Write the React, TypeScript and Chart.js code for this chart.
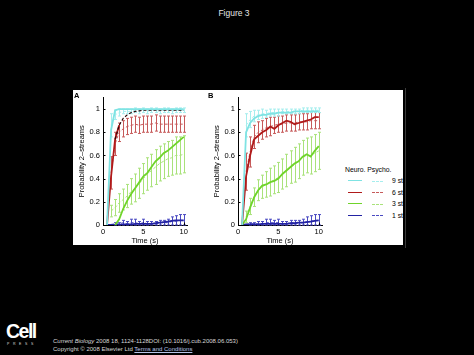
import React, { useEffect, useRef } from "react";
import { Chart, registerables } from "chart.js";
Chart.register(...registerables);

// ---------- data ----------
const TIME = [0.5, 1, 1.5, 2, 2.5, 3, 3.5, 4, 4.5, 5, 5.5, 6, 6.5, 7, 7.5, 8, 8.5, 9, 9.5, 10];
const X_TICKS = [0, 5, 10];
const Y_TICKS = [0, 0.2, 0.4, 0.6, 0.8, 1];
const LEGEND_LABELS = ["9 st", "6 st", "3 st", "1 st"];

// Panel A
const A_NEURO_9 = [0, 0.82, 0.99, 1, 1, 1, 1, 1, 1, 1, 1, 1, 1, 1, 1, 1, 1, 1, 1, 1];
const A_PSYCHO_9 = [null, 0.86, 0.95, 0.97, 0.98, 0.98, 0.98, 0.99, 0.98, 0.99, 0.98, 0.99, 0.99, 0.98, 0.99, 0.99, 0.98, 0.99, 0.99, 0.99];
const A_ERR_9 = [0, 0.1, 0.04, 0.03, 0.02, 0.02, 0.02, 0.02, 0.02, 0.02, 0.02, 0.02, 0.02, 0.02, 0.02, 0.02, 0.02, 0.02, 0.02, 0.02];
const A_NEURO_6 = [0, 0.42, 0.74, 0.86, null, null, null, null, null, null, null, null, null, null, null, null, null, null, null, null];
const A_FIT_6 = [null, null, 0.74, 0.86, 0.92, 0.95, 0.97, 0.98, 0.985, 0.99, 0.99, 0.99, 0.99, 0.99, 0.99, 0.99, 0.99, 0.99, 0.99, 0.99];
const A_PSYCHO_6 = [null, 0.45, 0.7, 0.8, 0.83, 0.85, 0.86, 0.87, 0.86, 0.87, 0.87, 0.87, 0.88, 0.87, 0.87, 0.87, 0.87, 0.87, 0.87, 0.87];
const A_ERR_6 = [0, 0.14, 0.1, 0.08, 0.07, 0.07, 0.07, 0.07, 0.07, 0.07, 0.07, 0.07, 0.07, 0.07, 0.07, 0.07, 0.07, 0.07, 0.07, 0.07];
const A_NEURO_3 = [null, null, 0, 0.05, 0.14, 0.21, 0.27, 0.32, 0.37, 0.42, 0.45, 0.5, 0.55, 0.58, 0.62, 0.64, 0.67, 0.7, 0.73, 0.76];
const A_PSYCHO_3 = [null, 0.12, 0.15, 0.19, 0.22, 0.25, 0.29, 0.32, 0.36, 0.4, 0.44, 0.47, 0.5, 0.53, 0.55, 0.57, 0.58, 0.6, 0.6, 0.61];
const A_ERR_3 = [0, 0.05, 0.07, 0.08, 0.09, 0.1, 0.11, 0.12, 0.13, 0.13, 0.14, 0.14, 0.15, 0.15, 0.15, 0.15, 0.15, 0.16, 0.16, 0.16];
const A_NEURO_1 = [0, 0, 0, 0, 0.005, 0.005, 0.005, 0.01, 0.01, 0.01, 0.01, 0.01, 0.015, 0.02, 0.025, 0.03, 0.035, 0.04, 0.04, 0.04];
const A_PSYCHO_1 = [null, 0.005, 0.01, 0.01, 0.02, 0.01, 0.02, 0.02, 0.01, 0.02, 0.01, 0.01, 0.01, 0.02, 0.02, 0.02, 0.03, 0.03, 0.04, 0.04];
const A_ERR_1 = [0, 0, 0.01, 0.01, 0.02, 0.02, 0.03, 0.03, 0.02, 0.03, 0.02, 0.02, 0.02, 0.02, 0.02, 0.03, 0.04, 0.05, 0.05, 0.05];

// Panel B
const B_NEURO_9 = [0, 0.8, 0.88, 0.92, 0.94, 0.95, 0.95, 0.96, 0.96, 0.97, 0.97, 0.97, 0.97, 0.98, 0.98, 0.98, 0.98, 0.98, 0.98, 0.98];
const B_PSYCHO_9 = [null, 0.86, 0.91, 0.94, 0.95, 0.96, 0.96, 0.97, 0.97, 0.97, 0.98, 0.98, 0.98, 0.98, 0.98, 0.99, 0.99, 0.99, 0.99, 0.99];
const B_ERR_9 = [0, 0.1, 0.07, 0.05, 0.04, 0.04, 0.03, 0.03, 0.03, 0.03, 0.02, 0.02, 0.02, 0.02, 0.02, 0.02, 0.02, 0.02, 0.02, 0.02];
const B_NEURO_6 = [0, 0.42, 0.6, 0.74, 0.77, 0.8, 0.82, 0.85, 0.83, 0.86, 0.88, 0.9, 0.89, 0.87, 0.88, 0.89, 0.9, 0.91, 0.93, 0.93];
const B_PSYCHO_6 = [null, 0.46, 0.63, 0.76, 0.8, 0.82, 0.84, 0.85, 0.86, 0.87, 0.87, 0.88, 0.88, 0.88, 0.89, 0.89, 0.89, 0.9, 0.9, 0.9];
const B_ERR_6 = [0, 0.16, 0.13, 0.1, 0.09, 0.08, 0.08, 0.08, 0.07, 0.07, 0.07, 0.07, 0.07, 0.07, 0.07, 0.07, 0.07, 0.07, 0.07, 0.07];
const B_NEURO_3 = [0, 0.05, 0.15, 0.24, 0.3, 0.34, 0.35, 0.37, 0.38, 0.4, 0.44, 0.47, 0.5, 0.53, 0.55, 0.59, 0.61, 0.59, 0.64, 0.68];
const B_PSYCHO_3 = [null, 0.07, 0.16, 0.24, 0.3, 0.33, 0.35, 0.37, 0.39, 0.41, 0.44, 0.47, 0.5, 0.52, 0.55, 0.58, 0.6, 0.6, 0.62, 0.64];
const B_ERR_3 = [0, 0.05, 0.07, 0.08, 0.09, 0.1, 0.11, 0.12, 0.12, 0.13, 0.13, 0.14, 0.14, 0.15, 0.15, 0.15, 0.15, 0.16, 0.16, 0.16];
const B_NEURO_1 = [0, 0.005, 0.005, 0.005, 0.005, 0.01, 0.01, 0.01, 0.01, 0.01, 0.01, 0.01, 0.015, 0.015, 0.02, 0.02, 0.025, 0.03, 0.035, 0.04];
const B_PSYCHO_1 = [null, 0.005, 0.01, 0.01, 0.01, 0.01, 0.02, 0.02, 0.02, 0.02, 0.01, 0.01, 0.02, 0.02, 0.02, 0.02, 0.03, 0.03, 0.04, 0.04];
const B_ERR_1 = [0, 0, 0.01, 0.01, 0.02, 0.02, 0.03, 0.03, 0.02, 0.03, 0.02, 0.02, 0.02, 0.02, 0.02, 0.03, 0.04, 0.05, 0.05, 0.05];

// ---------- styles ----------
const FONT = "'Liberation Sans', Arial, Helvetica, sans-serif";
const NEURO_COLORS = ["#7fe3e3", "#b01a1a", "#6fd42a", "#2323a3"];
const PSYCHO_COLORS = ["#a6eeee", "#c65a5a", "#a9e27a", "#4a4ac2"];

const errorBarPlugin = {
  id: "errorBars",
  beforeDatasetsDraw(chart: any, _args: any, opts: any) {
    const { ctx, scales } = chart;
    const x = scales.x, y = scales.y;
    ctx.save();
    ctx.lineWidth = 1;
    for (const s of opts.series || []) {
      ctx.strokeStyle = s.color;
      ctx.beginPath();
      s.values.forEach((v: number | null, i: number) => {
        const e = s.err[i];
        if (v == null || !e) return;
        const px = Math.round(x.getPixelForValue(TIME[i])) + 0.5;
        const top = y.getPixelForValue(v + e);
        const bot = y.getPixelForValue(Math.max(0, v - e));
        ctx.moveTo(px, top); ctx.lineTo(px, bot);
        ctx.moveTo(px - 1.5, top); ctx.lineTo(px + 1.5, top);
        ctx.moveTo(px - 1.5, bot); ctx.lineTo(px + 1.5, bot);
      });
      ctx.stroke();
    }
    // inward tick marks (MATLAB style)
    ctx.strokeStyle = "#000";
    ctx.beginPath();
    const ca = chart.chartArea;
    x.ticks.forEach((t: any) => {
      const px = Math.round(x.getPixelForValue(t.value)) + 0.5;
      ctx.moveTo(px, ca.bottom); ctx.lineTo(px, ca.bottom - 2.5);
    });
    y.ticks.forEach((t: any) => {
      const py = Math.round(y.getPixelForValue(t.value)) + 0.5;
      ctx.moveTo(ca.left, py); ctx.lineTo(ca.left + 2.5, py);
    });
    ctx.stroke();
    ctx.restore();
  },
};

function pts(vals: (number | null)[]) {
  return TIME.map((t, i) => ({ x: t, y: vals[i] }));
}

function neuro(vals: (number | null)[], color: string) {
  return { data: pts(vals), borderColor: color, borderWidth: 1.8, pointRadius: 0, tension: 0, spanGaps: false, fill: false };
}
function psycho(vals: (number | null)[], color: string) {
  return { data: pts(vals), borderColor: color, borderWidth: 1, borderDash: [3, 2], pointRadius: 0, tension: 0, spanGaps: false, fill: false };
}

function makeConfig(p: any) {
  return {
    type: "line",
    data: { datasets: p.datasets },
    plugins: [errorBarPlugin],
    options: {
      animation: false,
      responsive: false,
      maintainAspectRatio: false,
      events: [],
      layout: { padding: { top: 6, right: p.padRight, bottom: 0, left: 0 } },
      plugins: {
        legend: { display: false },
        tooltip: { enabled: false },
        errorBars: { series: p.errors },
      },
      scales: {
        x: {
          type: "linear",
          min: 0,
          max: 10.4,
          afterBuildTicks: (s: any) => { s.ticks = X_TICKS.map((v) => ({ value: v })); },
          afterFit: (s: any) => { s.height = 20; },
          grid: { display: false, drawTicks: false },
          border: { display: true, color: "#000", width: 1 },
          ticks: { color: "#000", font: { family: FONT, size: 7.5 }, padding: 2, maxRotation: 0, autoSkip: false, callback: (v: any) => String(v) },
          title: { display: true, text: "Time (s)", color: "#000", font: { family: FONT, size: 7.5 }, padding: { top: 0, bottom: 0 } },
        },
        y: {
          type: "linear",
          min: 0,
          max: 1.1,
          afterBuildTicks: (s: any) => { s.ticks = Y_TICKS.map((v) => ({ value: v })); },
          afterFit: (s: any) => { s.width = p.yWidth; },
          grid: { display: false, drawTicks: false },
          border: { display: true, color: "#000", width: 1 },
          ticks: {
            color: "#000", font: { family: FONT, size: 7.5 }, padding: 3, autoSkip: false,
            callback: (v: any) => (v === 0 ? "0" : v === 1 ? "1" : Number(v).toFixed(1)),
          },
          title: { display: true, text: "Probability 2–streams", color: "#000", font: { family: FONT, size: 7.5 }, padding: { top: p.titlePad, bottom: 0 } },
        },
      },
    },
  };
}

const PANEL_A = {
  yWidth: 30,
  padRight: 19,
  titlePad: 4,
  datasets: [
    neuro(A_NEURO_9, NEURO_COLORS[0]),
    { ...psycho(A_FIT_6, "#2a0a0a"), borderWidth: 1.2 },
    neuro(A_NEURO_6, NEURO_COLORS[1]),
    neuro(A_NEURO_3, NEURO_COLORS[2]),
    neuro(A_NEURO_1, NEURO_COLORS[3]),
    psycho(A_PSYCHO_9, PSYCHO_COLORS[0]),
    psycho(A_PSYCHO_6, PSYCHO_COLORS[1]),
    psycho(A_PSYCHO_3, PSYCHO_COLORS[2]),
    psycho(A_PSYCHO_1, PSYCHO_COLORS[3]),
  ],
  errors: [
    { values: A_PSYCHO_3, err: A_ERR_3, color: PSYCHO_COLORS[2] },
    { values: A_PSYCHO_1, err: A_ERR_1, color: PSYCHO_COLORS[3] },
    { values: A_PSYCHO_6, err: A_ERR_6, color: PSYCHO_COLORS[1] },
    { values: A_PSYCHO_9, err: A_ERR_9, color: PSYCHO_COLORS[0] },
  ],
};

const PANEL_B = {
  yWidth: 32,
  padRight: 8,
  titlePad: 6,
  datasets: [
    neuro(B_NEURO_9, NEURO_COLORS[0]),
    neuro(B_NEURO_6, NEURO_COLORS[1]),
    neuro(B_NEURO_3, NEURO_COLORS[2]),
    neuro(B_NEURO_1, NEURO_COLORS[3]),
    psycho(B_PSYCHO_9, PSYCHO_COLORS[0]),
    psycho(B_PSYCHO_6, PSYCHO_COLORS[1]),
    psycho(B_PSYCHO_3, PSYCHO_COLORS[2]),
    psycho(B_PSYCHO_1, PSYCHO_COLORS[3]),
  ],
  errors: [
    { values: B_PSYCHO_3, err: B_ERR_3, color: PSYCHO_COLORS[2] },
    { values: B_PSYCHO_1, err: B_ERR_1, color: PSYCHO_COLORS[3] },
    { values: B_PSYCHO_6, err: B_ERR_6, color: PSYCHO_COLORS[1] },
    { values: B_PSYCHO_9, err: B_ERR_9, color: PSYCHO_COLORS[0] },
  ],
};

function Panel({ cfg, left, width }: { cfg: any; left: number; width: number }) {
  const ref = useRef<HTMLCanvasElement | null>(null);
  useEffect(() => {
    if (!ref.current) return;
    const chart = new Chart(ref.current, makeConfig(cfg) as any);
    return () => chart.destroy();
  }, [cfg]);
  return (
    <canvas
      ref={ref}
      width={width}
      height={155}
      style={{ position: "absolute", left, top: 0, width, height: 155 }}
    />
  );
}

export default function App() {
  const white = { left: 73, top: 90, width: 330, height: 155 };
  return (
    <div style={{ position: "fixed", left: 0, top: 0, width: 474, height: 355, background: "#000", overflow: "hidden", fontFamily: FONT }}>
      <div style={{ position: "absolute", left: 0, width: 474, top: 7, textAlign: "center", color: "#e6e6e6", fontSize: 8.5, lineHeight: "12px" }}>
        <span style={{ position: "relative", left: -3 }}>Figure 3</span>
      </div>
      <div style={{ position: "absolute", left: 405, top: 88, width: 1, height: 160, background: "#3a3a3a" }} />
      <div style={{ position: "absolute", ...white, background: "#fff", overflow: "hidden" }}>
        <Panel cfg={PANEL_A} left={0} width={133} />
        <Panel cfg={PANEL_B} left={133} width={124} />
        <div style={{ position: "absolute", left: 1, top: 1, fontSize: 7.5, fontWeight: "bold", color: "#000", lineHeight: "9px" }}>A</div>
        <div style={{ position: "absolute", left: 135, top: 1, fontSize: 7.5, fontWeight: "bold", color: "#000", lineHeight: "9px" }}>B</div>
        <div style={{ position: "absolute", left: 272, top: 74.5, fontSize: 6.8, color: "#000", whiteSpace: "nowrap", lineHeight: "9px" }}>Neuro. Psycho.</div>
        {LEGEND_LABELS.map((lab, i) => (
          <div key={lab} style={{ position: "absolute", left: 0, top: 91 + i * 11.6, width: 330, height: 0 }}>
            <div style={{ position: "absolute", left: 275, top: -1, width: 14, height: 0, borderTop: `1.5px solid ${NEURO_COLORS[i]}` }} />
            <div style={{ position: "absolute", left: 299, top: -0.5, width: 11, height: 0, borderTop: `1px dashed ${PSYCHO_COLORS[i]}` }} />
            <div style={{ position: "absolute", left: 319, top: -5, fontSize: 6.8, color: "#000", whiteSpace: "nowrap", lineHeight: "9px" }}>{lab}</div>
          </div>
        ))}
      </div>
      {/* Cell Press logo */}
      <div style={{ position: "absolute", left: 6, top: 320, color: "#fff", fontSize: 19.5, fontWeight: "bold", letterSpacing: -1.5, lineHeight: "22px" }}>Cell</div>
      <div style={{ position: "absolute", left: 7, top: 342, color: "#ddd", fontSize: 3.5, letterSpacing: 3.6, lineHeight: "5px" }}>PRESS</div>
      <div style={{ position: "absolute", left: 53, top: 338, color: "#d8d8d8", fontSize: 6, lineHeight: "7px", whiteSpace: "nowrap" }}>
        <i>Current Biology</i> 2008 18, 1124-1128DOI: (10.1016/j.cub.2008.06.053)
      </div>
      <div style={{ position: "absolute", left: 53, top: 345.5, color: "#d8d8d8", fontSize: 6, lineHeight: "7px", whiteSpace: "nowrap" }}>
        Copyright © 2008 Elsevier Ltd <span style={{ textDecoration: "underline", color: "#b8c4e8" }}>Terms and Conditions</span>
      </div>
    </div>
  );
}
